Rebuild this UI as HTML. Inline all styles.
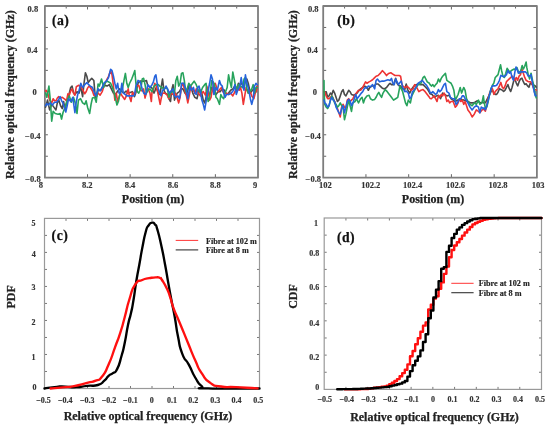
<!DOCTYPE html>
<html><head><meta charset="utf-8"><style>
html,body{margin:0;padding:0;background:#fff;width:550px;height:427px;overflow:hidden;font-family:"Liberation Serif", serif;}
</style></head><body>
<svg width="550" height="427" viewBox="0 0 550 427" style="position:absolute;left:0;top:0;filter:blur(0.35px)" font-family='"Liberation Serif", serif' font-weight="bold">
<rect width="550" height="427" fill="#fff"/>
<line x1="44.90" y1="156.24" x2="47.90" y2="156.24" stroke="#555" stroke-width="0.9"/>
<line x1="258.00" y1="156.24" x2="254.50" y2="156.24" stroke="#555" stroke-width="0.9"/>
<line x1="44.90" y1="134.78" x2="47.90" y2="134.78" stroke="#555" stroke-width="0.9"/>
<line x1="258.00" y1="134.78" x2="254.50" y2="134.78" stroke="#555" stroke-width="0.9"/>
<line x1="44.90" y1="113.31" x2="47.90" y2="113.31" stroke="#555" stroke-width="0.9"/>
<line x1="258.00" y1="113.31" x2="254.50" y2="113.31" stroke="#555" stroke-width="0.9"/>
<line x1="44.90" y1="91.85" x2="47.90" y2="91.85" stroke="#555" stroke-width="0.9"/>
<line x1="258.00" y1="91.85" x2="254.50" y2="91.85" stroke="#555" stroke-width="0.9"/>
<line x1="44.90" y1="70.39" x2="47.90" y2="70.39" stroke="#555" stroke-width="0.9"/>
<line x1="258.00" y1="70.39" x2="254.50" y2="70.39" stroke="#555" stroke-width="0.9"/>
<line x1="44.90" y1="48.92" x2="47.90" y2="48.92" stroke="#555" stroke-width="0.9"/>
<line x1="258.00" y1="48.92" x2="254.50" y2="48.92" stroke="#555" stroke-width="0.9"/>
<line x1="44.90" y1="27.46" x2="47.90" y2="27.46" stroke="#555" stroke-width="0.9"/>
<line x1="258.00" y1="27.46" x2="254.50" y2="27.46" stroke="#555" stroke-width="0.9"/>
<line x1="66.21" y1="6.00" x2="66.21" y2="8.50" stroke="#555" stroke-width="0.9"/>
<line x1="87.52" y1="6.00" x2="87.52" y2="9.50" stroke="#555" stroke-width="0.9"/>
<line x1="108.83" y1="6.00" x2="108.83" y2="8.50" stroke="#555" stroke-width="0.9"/>
<line x1="130.14" y1="6.00" x2="130.14" y2="9.50" stroke="#555" stroke-width="0.9"/>
<line x1="151.45" y1="6.00" x2="151.45" y2="8.50" stroke="#555" stroke-width="0.9"/>
<line x1="172.76" y1="6.00" x2="172.76" y2="9.50" stroke="#555" stroke-width="0.9"/>
<line x1="194.07" y1="6.00" x2="194.07" y2="8.50" stroke="#555" stroke-width="0.9"/>
<line x1="215.38" y1="6.00" x2="215.38" y2="9.50" stroke="#555" stroke-width="0.9"/>
<line x1="236.69" y1="6.00" x2="236.69" y2="8.50" stroke="#555" stroke-width="0.9"/>
<line x1="87.52" y1="177.70" x2="87.52" y2="174.20" stroke="#555" stroke-width="0.9"/>
<line x1="130.14" y1="177.70" x2="130.14" y2="174.20" stroke="#555" stroke-width="0.9"/>
<line x1="172.76" y1="177.70" x2="172.76" y2="174.20" stroke="#555" stroke-width="0.9"/>
<line x1="215.38" y1="177.70" x2="215.38" y2="174.20" stroke="#555" stroke-width="0.9"/>
<line x1="323.20" y1="156.24" x2="326.20" y2="156.24" stroke="#555" stroke-width="0.9"/>
<line x1="536.90" y1="156.24" x2="533.40" y2="156.24" stroke="#555" stroke-width="0.9"/>
<line x1="323.20" y1="134.78" x2="326.20" y2="134.78" stroke="#555" stroke-width="0.9"/>
<line x1="536.90" y1="134.78" x2="533.40" y2="134.78" stroke="#555" stroke-width="0.9"/>
<line x1="323.20" y1="113.31" x2="326.20" y2="113.31" stroke="#555" stroke-width="0.9"/>
<line x1="536.90" y1="113.31" x2="533.40" y2="113.31" stroke="#555" stroke-width="0.9"/>
<line x1="323.20" y1="91.85" x2="326.20" y2="91.85" stroke="#555" stroke-width="0.9"/>
<line x1="536.90" y1="91.85" x2="533.40" y2="91.85" stroke="#555" stroke-width="0.9"/>
<line x1="323.20" y1="70.39" x2="326.20" y2="70.39" stroke="#555" stroke-width="0.9"/>
<line x1="536.90" y1="70.39" x2="533.40" y2="70.39" stroke="#555" stroke-width="0.9"/>
<line x1="323.20" y1="48.92" x2="326.20" y2="48.92" stroke="#555" stroke-width="0.9"/>
<line x1="536.90" y1="48.92" x2="533.40" y2="48.92" stroke="#555" stroke-width="0.9"/>
<line x1="323.20" y1="27.46" x2="326.20" y2="27.46" stroke="#555" stroke-width="0.9"/>
<line x1="536.90" y1="27.46" x2="533.40" y2="27.46" stroke="#555" stroke-width="0.9"/>
<line x1="344.57" y1="6.00" x2="344.57" y2="8.50" stroke="#555" stroke-width="0.9"/>
<line x1="365.94" y1="6.00" x2="365.94" y2="9.50" stroke="#555" stroke-width="0.9"/>
<line x1="387.31" y1="6.00" x2="387.31" y2="8.50" stroke="#555" stroke-width="0.9"/>
<line x1="408.68" y1="6.00" x2="408.68" y2="9.50" stroke="#555" stroke-width="0.9"/>
<line x1="430.05" y1="6.00" x2="430.05" y2="8.50" stroke="#555" stroke-width="0.9"/>
<line x1="451.42" y1="6.00" x2="451.42" y2="9.50" stroke="#555" stroke-width="0.9"/>
<line x1="472.79" y1="6.00" x2="472.79" y2="8.50" stroke="#555" stroke-width="0.9"/>
<line x1="494.16" y1="6.00" x2="494.16" y2="9.50" stroke="#555" stroke-width="0.9"/>
<line x1="515.53" y1="6.00" x2="515.53" y2="8.50" stroke="#555" stroke-width="0.9"/>
<line x1="365.94" y1="177.70" x2="365.94" y2="174.20" stroke="#555" stroke-width="0.9"/>
<line x1="408.68" y1="177.70" x2="408.68" y2="174.20" stroke="#555" stroke-width="0.9"/>
<line x1="451.42" y1="177.70" x2="451.42" y2="174.20" stroke="#555" stroke-width="0.9"/>
<line x1="494.16" y1="177.70" x2="494.16" y2="174.20" stroke="#555" stroke-width="0.9"/>
<line x1="66.00" y1="388.50" x2="66.00" y2="386.00" stroke="#555" stroke-width="0.8"/>
<line x1="66.00" y1="218.40" x2="66.00" y2="220.90" stroke="#555" stroke-width="0.8"/>
<line x1="87.50" y1="388.50" x2="87.50" y2="386.00" stroke="#555" stroke-width="0.8"/>
<line x1="87.50" y1="218.40" x2="87.50" y2="220.90" stroke="#555" stroke-width="0.8"/>
<line x1="109.00" y1="388.50" x2="109.00" y2="386.00" stroke="#555" stroke-width="0.8"/>
<line x1="109.00" y1="218.40" x2="109.00" y2="220.90" stroke="#555" stroke-width="0.8"/>
<line x1="130.50" y1="388.50" x2="130.50" y2="386.00" stroke="#555" stroke-width="0.8"/>
<line x1="130.50" y1="218.40" x2="130.50" y2="220.90" stroke="#555" stroke-width="0.8"/>
<line x1="152.00" y1="388.50" x2="152.00" y2="386.00" stroke="#555" stroke-width="0.8"/>
<line x1="152.00" y1="218.40" x2="152.00" y2="220.90" stroke="#555" stroke-width="0.8"/>
<line x1="173.50" y1="388.50" x2="173.50" y2="386.00" stroke="#555" stroke-width="0.8"/>
<line x1="173.50" y1="218.40" x2="173.50" y2="220.90" stroke="#555" stroke-width="0.8"/>
<line x1="195.00" y1="388.50" x2="195.00" y2="386.00" stroke="#555" stroke-width="0.8"/>
<line x1="195.00" y1="218.40" x2="195.00" y2="220.90" stroke="#555" stroke-width="0.8"/>
<line x1="216.50" y1="388.50" x2="216.50" y2="386.00" stroke="#555" stroke-width="0.8"/>
<line x1="216.50" y1="218.40" x2="216.50" y2="220.90" stroke="#555" stroke-width="0.8"/>
<line x1="238.00" y1="388.50" x2="238.00" y2="386.00" stroke="#555" stroke-width="0.8"/>
<line x1="238.00" y1="218.40" x2="238.00" y2="220.90" stroke="#555" stroke-width="0.8"/>
<line x1="44.50" y1="235.41" x2="47.00" y2="235.41" stroke="#555" stroke-width="0.8"/>
<line x1="259.50" y1="235.41" x2="257.00" y2="235.41" stroke="#555" stroke-width="0.8"/>
<line x1="44.50" y1="252.42" x2="47.00" y2="252.42" stroke="#555" stroke-width="0.8"/>
<line x1="259.50" y1="252.42" x2="257.00" y2="252.42" stroke="#555" stroke-width="0.8"/>
<line x1="44.50" y1="269.43" x2="47.00" y2="269.43" stroke="#555" stroke-width="0.8"/>
<line x1="259.50" y1="269.43" x2="257.00" y2="269.43" stroke="#555" stroke-width="0.8"/>
<line x1="44.50" y1="286.44" x2="47.00" y2="286.44" stroke="#555" stroke-width="0.8"/>
<line x1="259.50" y1="286.44" x2="257.00" y2="286.44" stroke="#555" stroke-width="0.8"/>
<line x1="44.50" y1="303.45" x2="47.00" y2="303.45" stroke="#555" stroke-width="0.8"/>
<line x1="259.50" y1="303.45" x2="257.00" y2="303.45" stroke="#555" stroke-width="0.8"/>
<line x1="44.50" y1="320.46" x2="47.00" y2="320.46" stroke="#555" stroke-width="0.8"/>
<line x1="259.50" y1="320.46" x2="257.00" y2="320.46" stroke="#555" stroke-width="0.8"/>
<line x1="44.50" y1="337.47" x2="47.00" y2="337.47" stroke="#555" stroke-width="0.8"/>
<line x1="259.50" y1="337.47" x2="257.00" y2="337.47" stroke="#555" stroke-width="0.8"/>
<line x1="44.50" y1="354.48" x2="47.00" y2="354.48" stroke="#555" stroke-width="0.8"/>
<line x1="259.50" y1="354.48" x2="257.00" y2="354.48" stroke="#555" stroke-width="0.8"/>
<line x1="44.50" y1="371.49" x2="47.00" y2="371.49" stroke="#555" stroke-width="0.8"/>
<line x1="259.50" y1="371.49" x2="257.00" y2="371.49" stroke="#555" stroke-width="0.8"/>
<line x1="345.93" y1="389.40" x2="345.93" y2="386.90" stroke="#555" stroke-width="0.8"/>
<line x1="345.93" y1="218.00" x2="345.93" y2="220.50" stroke="#555" stroke-width="0.8"/>
<line x1="367.66" y1="389.40" x2="367.66" y2="386.90" stroke="#555" stroke-width="0.8"/>
<line x1="367.66" y1="218.00" x2="367.66" y2="220.50" stroke="#555" stroke-width="0.8"/>
<line x1="389.39" y1="389.40" x2="389.39" y2="386.90" stroke="#555" stroke-width="0.8"/>
<line x1="389.39" y1="218.00" x2="389.39" y2="220.50" stroke="#555" stroke-width="0.8"/>
<line x1="411.12" y1="389.40" x2="411.12" y2="386.90" stroke="#555" stroke-width="0.8"/>
<line x1="411.12" y1="218.00" x2="411.12" y2="220.50" stroke="#555" stroke-width="0.8"/>
<line x1="432.85" y1="389.40" x2="432.85" y2="386.90" stroke="#555" stroke-width="0.8"/>
<line x1="432.85" y1="218.00" x2="432.85" y2="220.50" stroke="#555" stroke-width="0.8"/>
<line x1="454.58" y1="389.40" x2="454.58" y2="386.90" stroke="#555" stroke-width="0.8"/>
<line x1="454.58" y1="218.00" x2="454.58" y2="220.50" stroke="#555" stroke-width="0.8"/>
<line x1="476.31" y1="389.40" x2="476.31" y2="386.90" stroke="#555" stroke-width="0.8"/>
<line x1="476.31" y1="218.00" x2="476.31" y2="220.50" stroke="#555" stroke-width="0.8"/>
<line x1="498.04" y1="389.40" x2="498.04" y2="386.90" stroke="#555" stroke-width="0.8"/>
<line x1="498.04" y1="218.00" x2="498.04" y2="220.50" stroke="#555" stroke-width="0.8"/>
<line x1="519.77" y1="389.40" x2="519.77" y2="386.90" stroke="#555" stroke-width="0.8"/>
<line x1="519.77" y1="218.00" x2="519.77" y2="220.50" stroke="#555" stroke-width="0.8"/>
<line x1="324.20" y1="235.14" x2="326.70" y2="235.14" stroke="#555" stroke-width="0.8"/>
<line x1="541.50" y1="235.14" x2="539.00" y2="235.14" stroke="#555" stroke-width="0.8"/>
<line x1="324.20" y1="252.28" x2="326.70" y2="252.28" stroke="#555" stroke-width="0.8"/>
<line x1="541.50" y1="252.28" x2="539.00" y2="252.28" stroke="#555" stroke-width="0.8"/>
<line x1="324.20" y1="269.42" x2="326.70" y2="269.42" stroke="#555" stroke-width="0.8"/>
<line x1="541.50" y1="269.42" x2="539.00" y2="269.42" stroke="#555" stroke-width="0.8"/>
<line x1="324.20" y1="286.56" x2="326.70" y2="286.56" stroke="#555" stroke-width="0.8"/>
<line x1="541.50" y1="286.56" x2="539.00" y2="286.56" stroke="#555" stroke-width="0.8"/>
<line x1="324.20" y1="303.70" x2="326.70" y2="303.70" stroke="#555" stroke-width="0.8"/>
<line x1="541.50" y1="303.70" x2="539.00" y2="303.70" stroke="#555" stroke-width="0.8"/>
<line x1="324.20" y1="320.84" x2="326.70" y2="320.84" stroke="#555" stroke-width="0.8"/>
<line x1="541.50" y1="320.84" x2="539.00" y2="320.84" stroke="#555" stroke-width="0.8"/>
<line x1="324.20" y1="337.98" x2="326.70" y2="337.98" stroke="#555" stroke-width="0.8"/>
<line x1="541.50" y1="337.98" x2="539.00" y2="337.98" stroke="#555" stroke-width="0.8"/>
<line x1="324.20" y1="355.12" x2="326.70" y2="355.12" stroke="#555" stroke-width="0.8"/>
<line x1="541.50" y1="355.12" x2="539.00" y2="355.12" stroke="#555" stroke-width="0.8"/>
<line x1="324.20" y1="372.26" x2="326.70" y2="372.26" stroke="#555" stroke-width="0.8"/>
<line x1="541.50" y1="372.26" x2="539.00" y2="372.26" stroke="#555" stroke-width="0.8"/>
<rect x="44.9" y="6.0" width="213.10" height="171.70" fill="none" stroke="#7d7d7d" stroke-width="1.8" stroke-linejoin="round"/>
<rect x="323.2" y="6.0" width="213.70" height="171.70" fill="none" stroke="#7d7d7d" stroke-width="1.8" stroke-linejoin="round"/>
<rect x="44.5" y="218.4" width="215.00" height="170.10" fill="none" stroke="#999" stroke-width="1.2"/>
<rect x="324.2" y="218.0" width="217.30" height="171.40" fill="none" stroke="#999" stroke-width="1.2"/>
<polyline points="45.60,107.13 47.51,100.11 49.62,109.94 51.72,104.33 53.83,107.13 55.94,109.94 57.34,102.92 58.75,100.11 60.57,105.73 62.26,108.54 63.66,101.52 65.07,109.94 66.47,103.62 67.88,99.41 69.28,93.09 70.69,87.47 72.09,86.07 73.49,92.39 74.90,94.49 77.01,91.69 79.11,93.09 80.52,86.07 82.62,96.60 84.03,83.26 85.43,72.72 86.84,76.24 88.24,82.56 90.35,79.75 91.75,78.34 93.86,80.45 95.26,97.30 96.67,96.60 98.07,90.28 100.81,90.28 102.92,86.07 105.02,85.37 107.13,86.07 109.24,84.66 111.34,88.88 113.45,93.09 115.56,94.49 117.66,90.98 119.77,88.88 121.88,91.69 123.98,93.09 126.09,90.98 128.20,93.09 130.30,92.39 132.41,91.69 134.52,96.60 135.92,92.39 138.03,83.26 140.13,81.15 142.24,81.15 144.35,81.15 146.46,80.45 147.86,86.07 149.97,86.77 152.07,88.17 154.11,93.09 156.21,87.47 158.32,93.09 159.72,94.49 161.13,87.47 162.53,79.04 163.94,90.28 165.34,93.09 167.45,94.49 168.85,98.71 170.54,101.52 171.66,90.28 173.07,84.66 174.47,100.11 175.88,95.90 177.28,93.09 179.39,91.69 180.79,88.88 182.90,88.88 185.01,93.09 186.41,94.49 187.81,90.28 189.22,84.66 190.62,86.07 192.73,93.09 194.84,97.30 196.94,98.71 199.05,90.28 201.16,90.28 203.26,100.11 204.67,102.92 206.07,97.30 206.81,90.28 208.21,93.09 209.62,94.49 211.72,87.47 213.83,93.09 215.94,94.49 218.04,91.69 220.15,91.69 222.26,88.88 224.37,90.28 226.47,94.49 228.58,93.09 230.69,90.28 232.79,88.88 234.90,86.07 236.30,91.69 238.41,83.26 239.81,84.66 241.22,83.26 243.33,86.07 245.43,81.85 246.84,79.04 248.24,83.26 250.35,93.09 252.46,90.28 254.56,88.88 255.97,90.28 257.20,86.07" fill="none" stroke="#4a4a4a" stroke-width="1.6" stroke-linejoin="round" stroke-linecap="round"/>
<polyline points="45.60,90.98 46.11,90.28 47.51,92.39 49.62,100.11 51.72,102.92 53.13,98.71 54.53,100.81 55.94,100.81 57.34,98.01 58.75,96.60 60.15,98.01 62.26,97.30 65.07,99.41 66.47,100.81 67.88,93.79 69.28,95.20 70.69,90.98 72.09,88.88 73.49,93.09 74.90,95.20 76.30,86.77 78.41,85.37 80.52,86.07 82.62,89.58 84.73,93.79 86.13,91.69 87.54,88.17 88.94,86.07 90.35,87.47 92.46,90.98 93.86,95.20 95.26,95.20 96.67,94.49 98.07,93.09 100.11,95.20 102.21,91.69 104.32,84.66 106.43,80.45 108.53,76.24 110.64,70.62 112.04,74.83 113.45,86.07 114.85,100.11 116.26,93.09 117.66,101.52 119.07,97.30 120.47,93.09 122.58,96.60 124.69,99.41 126.09,96.60 128.20,88.88 129.60,97.30 131.01,101.52 132.41,92.39 133.81,94.49 135.22,93.09 136.62,86.07 138.73,85.37 140.13,89.58 142.24,90.98 143.65,88.88 145.05,98.01 146.46,92.39 147.86,88.17 149.97,93.09 151.37,101.52 152.07,90.98 153.40,90.28 154.81,83.26 156.21,86.07 157.62,91.69 159.02,98.71 160.15,104.33 161.13,98.71 162.53,93.09 164.64,93.09 166.75,94.49 168.85,98.71 170.96,93.09 173.07,94.49 174.47,91.69 176.58,95.90 178.69,102.92 180.09,97.30 181.49,86.07 182.90,83.26 184.30,88.88 186.41,95.90 187.81,102.92 189.22,95.90 190.62,87.47 192.73,88.88 194.84,93.09 196.24,88.88 198.35,93.09 200.46,95.90 201.86,93.09 203.26,91.69 205.37,95.20 206.07,91.69 206.81,86.07 208.21,91.69 209.62,100.11 211.02,97.30 212.43,88.88 213.83,84.66 215.24,83.26 216.64,87.47 218.04,91.69 220.15,88.88 221.56,87.47 222.96,91.69 224.37,93.09 226.47,93.09 228.58,94.49 230.69,93.09 232.79,95.90 234.20,93.09 236.30,88.88 237.71,86.07 239.11,90.28 240.52,87.47 241.92,93.09 243.33,104.33 244.73,95.90 246.13,87.47 248.24,93.09 249.65,90.28 251.75,95.90 253.86,98.71 255.26,93.09 256.67,90.28 257.20,86.07" fill="none" stroke="#ee3434" stroke-width="1.6" stroke-linejoin="round" stroke-linecap="round"/>
<polyline points="45.60,93.09 46.81,97.30 48.92,86.07 50.32,100.11 51.72,121.18 53.13,111.35 55.24,113.46 58.04,114.16 60.15,113.46 61.56,119.07 62.96,112.75 65.07,107.13 67.17,100.11 69.28,95.90 71.39,102.22 73.49,97.30 75.60,104.33 77.01,113.46 78.41,100.11 80.52,98.71 82.62,102.92 84.73,104.33 86.13,100.81 87.54,107.13 89.65,113.46 91.05,104.33 92.46,98.01 94.56,97.30 96.25,102.22 98.07,83.96 99.40,86.07 101.51,79.04 103.62,87.47 105.02,83.26 106.43,81.15 108.53,81.85 110.64,83.26 112.75,88.17 114.15,93.09 115.56,98.71 116.96,105.03 118.37,101.52 119.77,94.49 121.17,89.58 122.58,88.17 123.98,80.45 125.39,73.43 126.79,83.26 128.20,87.47 129.60,83.26 131.71,79.04 133.81,73.43 134.80,70.62 135.92,83.26 137.33,91.69 138.73,93.09 140.84,88.88 142.24,79.04 143.65,78.34 145.05,84.66 146.46,93.09 147.86,90.28 149.97,88.88 152.07,91.69 154.11,86.07 156.21,84.66 158.32,84.66 159.72,86.07 161.83,87.47 163.94,88.88 166.04,87.47 167.45,88.88 168.85,97.30 170.26,93.09 172.37,91.69 174.47,93.09 175.88,80.45 177.28,76.24 178.69,86.07 180.09,83.26 181.49,73.43 182.90,72.72 184.30,80.45 185.71,91.69 187.11,88.88 188.80,83.26 190.62,86.07 192.03,83.96 194.13,81.15 196.24,84.66 198.35,90.28 200.46,93.09 202.56,87.47 204.67,84.66 206.07,83.26 206.81,93.09 208.21,101.52 209.62,97.30 211.72,80.45 213.13,81.85 214.53,84.66 215.94,97.30 217.34,98.71 219.45,104.33 220.85,94.49 222.26,97.30 223.66,98.71 225.07,93.09 227.17,87.47 228.58,74.83 229.98,81.85 231.39,87.47 232.79,72.02 234.20,79.04 235.60,86.07 237.01,88.88 238.41,84.66 240.52,86.07 242.62,87.47 244.03,79.04 245.43,77.64 246.84,88.88 248.24,93.09 249.65,91.69 251.75,88.88 253.16,84.66 254.56,93.09 255.97,87.47 257.20,87.47" fill="none" stroke="#27a35c" stroke-width="1.6" stroke-linejoin="round" stroke-linecap="round"/>
<polyline points="45.60,105.73 46.81,103.62 48.21,105.03 50.32,102.92 52.43,105.03 54.53,102.22 56.64,102.22 58.75,99.41 60.15,96.60 61.56,100.81 62.96,102.92 64.37,107.13 65.77,112.05 67.17,105.73 68.58,98.71 70.69,101.52 72.79,97.30 74.90,112.75 76.30,101.52 77.71,94.49 79.11,90.28 80.80,83.26 82.62,87.47 84.73,84.66 86.84,82.56 88.66,84.66 90.35,86.07 92.46,87.47 94.56,93.09 95.97,95.90 98.07,88.88 100.11,90.98 102.21,87.47 104.32,82.56 106.43,81.15 108.53,77.64 110.64,69.21 112.04,70.62 113.45,76.24 114.85,83.26 116.26,88.88 117.66,83.26 119.07,93.09 120.47,93.09 121.88,83.26 123.28,93.09 125.39,94.49 126.79,95.90 128.90,95.90 131.01,95.90 133.11,95.90 134.52,95.20 135.92,86.07 138.03,80.45 140.13,81.85 142.24,88.88 143.65,93.09 145.75,94.49 147.86,84.66 149.97,87.47 152.07,84.66 153.40,81.85 154.81,76.24 155.93,74.83 156.92,81.85 158.32,88.88 159.72,93.09 161.13,95.90 162.53,90.28 164.64,88.88 166.04,86.07 167.45,88.88 169.56,93.09 171.66,90.28 173.07,88.88 174.47,95.90 175.88,97.30 177.98,95.90 179.39,98.71 180.79,91.69 181.49,83.26 183.60,83.26 185.01,87.47 186.41,90.28 187.81,98.71 189.92,86.07 191.33,90.28 193.43,87.47 194.84,93.09 196.24,94.49 197.65,87.47 199.05,86.07 200.46,91.69 201.86,100.11 203.26,104.33 204.67,109.94 206.07,101.52 206.81,95.90 208.21,90.28 209.62,83.26 211.02,74.83 212.43,79.04 213.83,94.49 215.24,87.47 217.34,90.28 219.45,80.45 220.85,84.66 222.26,86.07 223.66,93.09 225.07,97.30 226.47,94.49 228.58,94.49 231.39,93.09 233.49,90.28 234.90,84.66 236.30,94.49 237.71,90.28 239.81,86.07 241.22,77.64 242.62,86.07 244.03,90.28 245.43,74.83 246.84,83.26 248.24,87.47 250.35,98.71 251.75,104.33 253.16,98.71 254.56,86.07 255.97,83.26 257.20,84.66" fill="none" stroke="#2563dc" stroke-width="1.6" stroke-linejoin="round" stroke-linecap="round"/>
<polyline points="324.00,91.69 324.81,91.69 326.21,91.69 327.62,97.30 329.02,95.90 330.43,93.09 331.83,94.49 333.24,90.28 334.64,93.09 336.04,97.30 337.45,101.52 338.85,100.11 340.26,95.90 341.66,91.69 343.07,89.58 344.47,94.49 345.88,95.90 347.28,93.09 348.69,90.28 350.09,91.69 351.49,94.49 353.60,95.20 355.01,94.49 357.11,93.09 359.22,90.28 360.62,88.88 362.73,87.47 364.84,86.07 366.94,87.47 368.35,90.28 369.75,87.47 371.86,86.07 373.97,86.07 376.07,83.96 378.11,83.96 380.21,86.07 382.32,88.17 384.43,88.88 386.53,87.47 388.64,84.66 390.04,83.26 391.45,84.66 393.56,84.66 395.66,78.34 397.07,83.26 398.47,85.37 400.58,86.07 402.69,88.88 404.79,89.58 406.20,83.96 407.60,89.58 409.71,93.09 411.81,88.88 413.92,86.07 416.03,84.66 418.13,83.96 420.24,84.66 423.05,84.66 425.16,86.77 427.26,88.88 429.37,92.39 430.07,93.79 432.11,94.49 434.21,97.30 436.32,95.90 438.43,95.20 440.53,98.71 442.64,93.09 444.75,94.49 446.85,95.90 448.96,95.20 451.07,98.71 453.17,100.11 455.28,101.52 457.39,100.11 459.49,100.11 461.60,99.41 463.71,100.11 465.81,100.81 467.92,101.52 470.73,102.92 472.84,102.92 474.94,102.22 477.05,100.81 478.46,101.52 480.56,102.92 482.67,102.22 484.07,102.92 485.40,102.75 486.81,99.94 488.21,97.13 489.62,94.33 491.02,91.52 492.43,90.11 493.83,92.92 495.24,94.33 496.64,94.33 498.04,92.22 499.45,88.71 500.85,89.41 502.26,90.11 503.66,91.52 505.07,90.11 506.47,87.30 507.88,84.49 509.28,88.71 510.69,91.52 512.09,87.30 513.49,81.69 514.90,78.88 516.30,83.09 517.71,85.90 519.11,81.69 520.52,78.88 521.92,78.17 523.33,81.69 524.73,84.49 526.13,83.79 527.54,85.90 528.94,87.30 530.35,83.09 532.46,84.49 533.86,85.20 535.26,85.90 536.20,87.30" fill="none" stroke="#4a4a4a" stroke-width="1.6" stroke-linejoin="round" stroke-linecap="round"/>
<polyline points="324.00,91.69 324.81,91.69 326.21,95.90 327.62,98.71 329.02,98.71 330.43,97.30 331.83,95.90 333.24,98.71 334.64,101.52 336.04,105.73 337.45,108.54 338.85,112.75 340.26,116.97 341.66,107.13 343.07,104.33 344.47,107.13 345.88,108.54 347.28,100.11 348.69,98.71 350.09,101.52 351.49,100.11 352.90,98.71 354.30,95.90 356.41,93.09 358.52,90.28 360.62,90.28 362.73,87.47 364.13,84.66 365.54,81.85 366.94,83.26 369.05,81.85 370.46,81.15 372.56,79.75 374.67,77.64 376.07,76.24 378.11,75.53 380.21,73.43 382.32,70.62 384.43,72.72 386.53,75.53 388.64,73.43 390.75,72.72 392.85,74.13 394.96,75.53 397.07,75.53 399.17,75.53 400.58,76.24 401.98,84.66 403.39,86.77 405.49,87.47 406.90,86.07 409.01,88.17 411.11,90.28 413.22,88.88 414.62,84.66 416.03,86.07 417.43,88.88 418.84,91.69 420.94,90.28 423.05,89.58 425.16,91.69 427.26,94.49 429.37,97.30 430.07,98.43 431.40,98.71 432.81,97.30 434.21,95.90 435.62,98.71 437.02,101.52 438.43,95.90 439.83,97.30 441.24,94.49 442.64,95.90 444.04,93.09 445.45,95.90 446.85,101.52 448.26,100.11 449.66,102.92 451.07,101.52 453.17,101.52 455.28,107.13 456.69,105.73 458.09,102.92 459.49,98.71 460.90,101.52 462.30,100.11 463.71,104.33 465.11,101.52 466.52,105.73 467.92,109.94 470.03,112.75 472.13,116.97 474.24,114.16 476.35,109.94 478.46,111.35 479.86,112.75 481.97,109.94 484.07,109.24 485.40,111.18 486.81,105.56 488.21,98.54 489.62,92.92 491.02,90.11 492.43,88.71 493.83,94.33 495.24,91.52 496.64,90.11 498.04,88.71 499.45,85.90 500.85,82.39 502.26,87.30 503.66,88.71 505.07,85.90 506.47,81.69 507.88,80.28 509.28,78.88 510.69,77.47 512.09,76.07 513.49,77.47 514.90,80.28 516.30,77.47 517.71,80.28 519.11,76.07 520.52,74.66 521.92,69.04 523.33,73.26 524.73,77.47 526.13,80.28 528.24,81.69 530.35,81.69 531.75,83.09 533.16,87.30 534.56,89.41 536.20,90.11" fill="none" stroke="#ee3434" stroke-width="1.6" stroke-linejoin="round" stroke-linecap="round"/>
<polyline points="324.00,80.45 324.11,93.09 324.81,104.33 326.21,107.13 327.62,108.54 329.02,105.73 330.43,100.11 331.83,95.90 333.24,98.71 334.64,102.92 336.04,104.33 337.45,107.13 338.85,105.73 340.26,102.92 341.66,105.73 343.07,107.13 344.47,119.78 345.88,114.16 347.28,107.13 348.69,100.11 350.09,105.73 351.49,111.35 352.90,102.92 355.01,101.52 356.41,98.71 358.52,102.92 360.62,98.71 362.03,97.30 363.43,102.92 364.84,98.71 366.94,95.90 369.05,95.20 370.46,98.71 372.56,100.11 374.67,99.41 376.07,97.30 377.40,94.49 378.81,92.39 380.21,95.20 381.62,97.30 383.02,93.09 385.13,89.58 387.24,91.69 389.34,94.49 391.45,97.30 393.56,100.11 395.66,98.71 397.77,97.30 399.88,86.07 401.28,88.88 402.69,91.69 404.09,97.30 405.49,102.92 406.90,105.73 408.30,100.11 410.41,102.92 411.81,95.90 413.92,91.69 416.03,87.47 418.13,84.66 420.94,83.26 423.05,77.64 424.46,76.24 425.86,79.04 427.26,81.85 429.37,83.26 430.07,84.66 431.40,86.07 432.81,84.66 434.21,86.77 435.62,84.66 437.02,83.26 438.43,79.04 439.83,81.85 441.24,78.34 442.64,76.24 444.04,74.83 445.45,73.43 446.85,80.45 448.96,81.85 451.07,83.26 452.47,86.07 453.88,90.28 455.28,100.11 456.69,97.30 458.09,94.49 460.20,87.47 461.60,93.09 463.71,87.47 465.11,90.28 466.52,98.71 467.92,101.52 470.03,104.33 472.13,105.73 474.24,102.92 476.35,104.33 478.46,100.11 479.86,104.33 481.97,102.92 483.37,95.90 484.07,101.52 485.40,108.37 486.81,106.97 488.21,101.35 489.62,94.33 491.02,88.71 492.43,85.20 493.83,83.09 495.24,77.47 496.64,76.07 498.04,74.66 499.45,69.04 500.57,64.83 501.56,70.45 502.96,76.07 504.37,77.47 505.77,73.26 507.17,68.34 508.58,70.45 509.98,71.85 511.39,70.45 512.79,69.75 514.20,69.04 515.60,69.75 517.01,67.64 518.41,71.85 519.81,73.26 521.22,69.04 522.20,65.53 523.33,69.04 524.73,66.24 526.13,62.02 526.84,67.64 528.24,74.66 529.65,78.88 531.05,73.26 532.46,80.28 533.86,85.90 535.26,94.33 536.20,97.84" fill="none" stroke="#27a35c" stroke-width="1.6" stroke-linejoin="round" stroke-linecap="round"/>
<polyline points="324.00,100.11 324.81,102.92 326.21,104.33 327.62,107.13 329.02,105.73 330.43,100.11 331.83,97.30 333.24,100.11 334.64,101.52 336.04,107.13 337.45,109.94 338.85,112.75 340.26,114.16 341.66,108.54 343.07,105.73 344.47,112.75 345.88,107.13 347.28,101.52 348.69,99.41 350.09,100.81 351.49,105.73 352.90,102.92 354.30,98.71 355.71,94.49 357.11,98.71 359.22,95.90 361.33,93.09 362.73,91.69 364.13,88.88 365.54,87.47 366.94,88.17 368.35,86.07 370.46,86.77 372.56,84.66 374.67,88.88 376.07,80.45 377.40,79.04 379.51,81.85 381.62,81.15 383.72,81.15 385.83,80.45 387.94,79.75 390.04,80.45 391.45,78.34 392.85,83.26 394.26,84.66 395.66,79.04 397.07,81.85 398.47,84.66 399.88,82.56 401.28,81.15 402.69,87.47 404.79,91.69 406.20,90.98 408.30,93.09 409.71,98.71 411.11,97.30 412.52,91.69 413.92,90.28 416.03,87.47 418.13,83.26 420.24,81.85 422.35,80.45 424.46,83.26 426.56,85.37 428.67,88.88 430.07,92.39 431.40,93.09 432.81,91.69 434.21,93.09 435.62,94.49 437.02,93.09 438.43,89.58 439.83,91.69 441.24,90.28 442.64,87.47 444.04,84.66 445.45,83.26 446.85,91.69 448.96,93.09 450.37,97.30 452.47,98.71 454.58,98.71 455.98,104.33 457.39,102.92 459.49,98.71 460.90,98.71 462.30,95.90 463.71,95.90 465.11,98.71 466.52,100.11 467.92,102.92 470.03,107.13 472.13,109.94 474.24,107.13 476.35,105.73 478.46,107.13 479.86,112.75 481.26,107.13 483.37,108.54 484.07,107.84 485.40,109.78 486.81,105.56 488.21,99.94 489.62,94.33 491.02,88.71 492.43,85.90 493.83,85.90 495.24,85.90 496.64,85.20 498.04,83.09 499.45,80.28 500.85,75.37 502.26,76.07 503.66,76.77 505.07,76.07 506.47,74.66 507.88,70.45 509.28,73.26 510.69,71.85 512.09,77.47 513.49,80.28 514.90,71.85 516.02,66.94 517.01,69.04 518.41,73.26 519.81,71.85 521.22,71.85 523.33,71.85 525.43,71.85 526.84,73.26 528.24,76.07 529.65,76.07 531.05,74.66 532.46,83.09 533.86,90.11 535.26,95.73 536.20,95.73" fill="none" stroke="#2563dc" stroke-width="1.6" stroke-linejoin="round" stroke-linecap="round"/>
<path d="M44.50,388.50 C48.63,387.93 49.90,387.43 56.90,386.80 C63.90,386.17 59.03,386.47 65.50,386.60 C71.97,386.73 69.10,387.47 76.30,387.20 C83.50,386.93 79.93,386.53 87.10,385.80 C94.27,385.07 92.07,386.70 97.80,385.00 C103.53,383.30 100.70,383.77 104.30,380.70 C107.90,377.63 105.73,378.30 108.60,375.80 C111.47,373.30 110.03,375.50 112.90,373.20 C115.77,370.90 114.33,374.63 117.20,368.90 C120.07,363.17 119.00,364.63 121.50,356.00 C124.00,347.37 122.53,353.33 124.70,343.00 C126.87,332.67 125.90,335.00 128.00,325.00 C130.10,315.00 129.17,321.33 131.00,313.00 C132.83,304.67 131.73,310.60 133.50,300.00 C135.27,289.40 134.37,292.93 136.30,281.20 C138.23,269.47 137.33,275.73 139.30,264.80 C141.27,253.87 140.07,259.33 142.20,248.40 C144.33,237.47 143.60,239.63 145.70,232.00 C147.80,224.37 146.40,228.60 148.50,225.50 C150.60,222.40 149.83,223.03 152.00,222.70 C154.17,222.37 153.20,222.17 155.00,224.50 C156.80,226.83 155.27,222.53 157.40,229.70 C159.53,236.87 158.83,234.30 161.40,246.00 C163.97,257.70 162.77,252.27 165.10,264.80 C167.43,277.33 166.30,271.87 168.40,283.60 C170.50,295.33 169.27,288.80 171.40,300.00 C173.53,311.20 172.60,305.00 174.80,317.20 C177.00,329.40 175.50,324.40 178.00,336.60 C180.50,348.80 178.70,344.47 182.30,353.80 C185.90,363.13 184.50,356.70 188.80,364.60 C193.10,372.50 190.90,370.33 195.20,377.50 C199.50,384.67 197.40,382.50 201.70,386.10 C206.00,389.70 188.83,387.50 208.10,388.30 C227.37,389.10 242.37,388.43 259.50,388.50" fill="none" stroke="#000" stroke-width="2.35" stroke-linejoin="round" stroke-linecap="round"/>
<path d="M50.50,388.50 C55.50,388.07 57.63,388.00 65.50,387.20 C73.37,386.40 66.90,387.53 74.10,386.10 C81.30,384.67 79.90,384.70 87.10,382.90 C94.30,381.10 90.70,382.87 95.70,380.70 C100.70,378.53 97.80,381.77 102.10,376.40 C106.40,371.03 104.30,374.27 108.60,364.60 C112.90,354.93 111.07,358.17 115.00,347.40 C118.93,336.63 117.17,342.37 120.40,332.30 C123.63,322.23 121.67,328.30 124.70,317.20 C127.73,306.10 126.03,309.83 129.50,299.00 C132.97,288.17 130.87,291.03 135.10,284.70 C139.33,278.37 137.50,282.17 142.20,280.00 C146.90,277.83 144.53,279.10 149.20,278.20 C153.87,277.30 152.60,277.37 156.20,277.30 C159.80,277.23 158.07,277.10 160.00,278.00 C161.93,278.90 159.77,276.57 162.00,280.00 C164.23,283.43 163.93,282.43 166.70,288.30 C169.47,294.17 167.97,290.83 170.30,297.60 C172.63,304.37 170.43,299.90 173.70,308.60 C176.97,317.30 175.33,312.23 180.10,323.70 C184.87,335.17 182.97,330.80 188.00,343.00 C193.03,355.20 190.63,350.23 195.20,360.30 C199.77,370.37 196.67,365.67 201.70,373.20 C206.73,380.73 203.87,378.47 210.30,382.90 C216.73,387.33 212.40,385.07 221.00,386.50 C229.60,387.93 223.90,386.60 236.10,387.20 C248.30,387.80 250.43,387.93 257.60,388.30" fill="none" stroke="#ff1010" stroke-width="2.35" stroke-linejoin="round" stroke-linecap="round"/>
<polyline points="345.00,389.40 347.60,389.40 347.60,389.36 350.20,389.36 350.20,389.32 352.80,389.32 352.80,389.28 355.40,389.28 355.40,389.24 358.00,389.24 358.00,389.20 360.60,389.20 360.60,389.16 363.20,389.16 363.20,389.13 365.80,389.13 365.80,388.97 368.40,388.97 368.40,388.58 371.00,388.58 371.00,388.20 373.60,388.20 373.60,387.81 376.20,387.81 376.20,387.47 378.80,387.47 378.80,387.12 381.40,387.12 381.40,386.77 384.00,386.77 384.00,386.43 386.60,386.43 386.60,385.69 389.20,385.69 389.20,384.21 391.80,384.21 391.80,382.73 394.40,382.73 394.40,380.94 397.00,380.94 397.00,379.10 399.60,379.10 399.60,376.28 402.20,376.28 402.20,373.10 404.80,373.10 404.80,369.78 407.40,369.78 407.40,364.40 410.00,364.40 410.00,356.20 412.60,356.20 412.60,351.00 415.20,351.00 415.20,344.22 417.80,344.22 417.80,338.30 420.40,338.30 420.40,331.79 423.00,331.79 423.00,325.67 425.60,325.67 425.60,322.42 428.20,322.42 428.20,309.56 430.80,309.56 430.80,304.71 433.40,304.71 433.40,298.60 436.00,298.60 436.00,296.31 438.60,296.31 438.60,288.70 441.20,288.70 441.20,282.40 443.80,282.40 443.80,273.84 446.40,273.84 446.40,266.50 449.00,266.50 449.00,257.26 451.60,257.26 451.60,250.04 454.20,250.04 454.20,245.50 456.80,245.50 456.80,242.20 459.40,242.20 459.40,238.97 462.00,238.97 462.00,235.66 464.60,235.66 464.60,232.49 467.20,232.49 467.20,229.65 469.80,229.65 469.80,227.00 472.40,227.00 472.40,224.40 475.00,224.40 475.00,222.97 477.60,222.97 477.60,221.69 480.20,221.69 480.20,220.70 482.80,220.70 482.80,219.78 485.40,219.78 485.40,219.26 488.00,219.26 488.00,218.92 490.60,218.92 490.60,218.58 493.20,218.58 493.20,218.28 495.80,218.28 495.80,218.17 498.40,218.17 498.40,218.07 501.00,218.07 501.00,218.00 503.60,218.00 503.60,218.00 506.20,218.00 506.20,218.00 508.80,218.00 508.80,218.00 511.40,218.00 511.40,218.00 514.00,218.00 514.00,218.00 516.60,218.00 516.60,218.00 519.20,218.00 519.20,218.00 521.80,218.00 521.80,218.00 524.40,218.00 524.40,218.00 527.00,218.00 527.00,218.00 529.60,218.00 529.60,218.00 532.20,218.00 532.20,218.00 534.80,218.00 534.80,218.00 537.40,218.00 537.40,218.00 540.00,218.00 540.00,218.00 541.50,218.00 541.50,218.00" fill="none" stroke="#ff1010" stroke-width="2.4" stroke-linejoin="round" stroke-linecap="round"/>
<polyline points="337.20,389.20 339.80,389.20 339.80,389.18 342.40,389.18 342.40,389.16 345.00,389.16 345.00,389.15 347.60,389.15 347.60,389.13 350.20,389.13 350.20,389.11 352.80,389.11 352.80,389.06 355.40,389.06 355.40,388.96 358.00,388.96 358.00,388.85 360.60,388.85 360.60,388.75 363.20,388.75 363.20,388.64 365.80,388.64 365.80,388.54 368.40,388.54 368.40,388.44 371.00,388.44 371.00,388.25 373.60,388.25 373.60,388.03 376.20,388.03 376.20,387.81 378.80,387.81 378.80,387.59 381.40,387.59 381.40,387.36 384.00,387.36 384.00,387.14 386.60,387.14 386.60,386.92 389.20,386.92 389.20,386.27 391.80,386.27 391.80,385.59 394.40,385.59 394.40,384.93 397.00,384.93 397.00,384.30 399.60,384.30 399.60,383.67 402.20,383.67 402.20,382.41 404.80,382.41 404.80,381.06 407.40,381.06 407.40,376.60 410.00,376.60 410.00,371.08 412.60,371.08 412.60,365.29 415.20,365.29 415.20,360.69 417.80,360.69 417.80,356.33 420.40,356.33 420.40,350.39 423.00,350.39 423.00,342.00 425.60,342.00 425.60,334.28 428.20,334.28 428.20,318.18 430.80,318.18 430.80,310.45 433.40,310.45 433.40,297.57 436.00,297.57 436.00,289.63 438.60,289.63 438.60,281.17 441.20,281.17 441.20,268.80 443.80,268.80 443.80,267.16 446.40,267.16 446.40,251.92 449.00,251.92 449.00,245.71 451.60,245.71 451.60,238.07 454.20,238.07 454.20,233.84 456.80,233.84 456.80,229.59 459.40,229.59 459.40,227.40 462.00,227.40 462.00,224.87 464.60,224.87 464.60,223.17 467.20,223.17 467.20,221.47 469.80,221.47 469.80,220.29 472.40,220.29 472.40,219.13 475.00,219.13 475.00,218.68 477.60,218.68 477.60,218.33 480.20,218.33 480.20,218.00 482.80,218.00 482.80,218.00 485.40,218.00 485.40,218.00 488.00,218.00 488.00,218.00 490.60,218.00 490.60,218.00 493.20,218.00 493.20,218.00 495.80,218.00 495.80,218.00 498.40,218.00 498.40,218.00 501.00,218.00 501.00,218.00 503.60,218.00 503.60,218.00 506.20,218.00 506.20,218.00 508.80,218.00 508.80,218.00 511.40,218.00 511.40,218.00 514.00,218.00 514.00,218.00 516.60,218.00 516.60,218.00 519.20,218.00 519.20,218.00 521.80,218.00 521.80,218.00 524.40,218.00 524.40,218.00 527.00,218.00 527.00,218.00 529.60,218.00 529.60,218.00 532.20,218.00 532.20,218.00 534.80,218.00 534.80,218.00 537.40,218.00 537.40,218.00 540.00,218.00 540.00,218.00 541.50,218.00 541.50,218.00" fill="none" stroke="#000" stroke-width="2.4" stroke-linejoin="round" stroke-linecap="round"/>
<text x="32.90" y="12.37" font-size="8.5" text-anchor="middle" fill="#333" stroke="#333" stroke-width="0.15">0.8</text>
<text x="32.20" y="53.27" font-size="8.5" text-anchor="middle" fill="#333" stroke="#333" stroke-width="0.15">0.4</text>
<text x="34.50" y="94.67" font-size="8.5" text-anchor="middle" fill="#333" stroke="#333" stroke-width="0.15">0</text>
<text x="32.80" y="138.77" font-size="8.5" text-anchor="middle" fill="#333" stroke="#333" stroke-width="0.15">−0.4</text>
<text x="33.00" y="182.07" font-size="8.5" text-anchor="middle" fill="#333" stroke="#333" stroke-width="0.15">−0.8</text>
<text x="313.20" y="12.37" font-size="8.5" text-anchor="middle" fill="#333" stroke="#333" stroke-width="0.15">0.8</text>
<text x="312.50" y="53.27" font-size="8.5" text-anchor="middle" fill="#333" stroke="#333" stroke-width="0.15">0.4</text>
<text x="314.80" y="94.67" font-size="8.5" text-anchor="middle" fill="#333" stroke="#333" stroke-width="0.15">0</text>
<text x="313.10" y="138.77" font-size="8.5" text-anchor="middle" fill="#333" stroke="#333" stroke-width="0.15">−0.4</text>
<text x="313.30" y="182.07" font-size="8.5" text-anchor="middle" fill="#333" stroke="#333" stroke-width="0.15">−0.8</text>
<text x="40.90" y="187.97" font-size="8.5" text-anchor="middle" fill="#333" stroke="#333" stroke-width="0.15">8</text>
<text x="87.20" y="187.97" font-size="8.5" text-anchor="middle" fill="#333" stroke="#333" stroke-width="0.15">8.2</text>
<text x="130.00" y="187.97" font-size="8.5" text-anchor="middle" fill="#333" stroke="#333" stroke-width="0.15">8.4</text>
<text x="173.00" y="187.97" font-size="8.5" text-anchor="middle" fill="#333" stroke="#333" stroke-width="0.15">8.6</text>
<text x="215.40" y="187.97" font-size="8.5" text-anchor="middle" fill="#333" stroke="#333" stroke-width="0.15">8.8</text>
<text x="255.20" y="187.97" font-size="8.5" text-anchor="middle" fill="#333" stroke="#333" stroke-width="0.15">9</text>
<text x="325.30" y="188.37" font-size="8.5" text-anchor="middle" fill="#333" stroke="#333" stroke-width="0.15">102</text>
<text x="370.70" y="188.37" font-size="8.5" text-anchor="middle" fill="#333" stroke="#333" stroke-width="0.15">102.2</text>
<text x="412.60" y="188.37" font-size="8.5" text-anchor="middle" fill="#333" stroke="#333" stroke-width="0.15">102.4</text>
<text x="455.50" y="188.37" font-size="8.5" text-anchor="middle" fill="#333" stroke="#333" stroke-width="0.15">102.6</text>
<text x="498.00" y="188.37" font-size="8.5" text-anchor="middle" fill="#333" stroke="#333" stroke-width="0.15">102.8</text>
<text x="538.20" y="188.37" font-size="8.5" text-anchor="middle" fill="#333" stroke="#333" stroke-width="0.15">103</text>
<text x="43.50" y="402.80" font-size="8" text-anchor="middle" fill="#333" stroke="#333" stroke-width="0.15">−0.5</text>
<text x="324.70" y="401.70" font-size="8" text-anchor="middle" fill="#333" stroke="#333" stroke-width="0.15">−0.5</text>
<text x="65.20" y="402.80" font-size="8" text-anchor="middle" fill="#333" stroke="#333" stroke-width="0.15">−0.4</text>
<text x="346.70" y="401.70" font-size="8" text-anchor="middle" fill="#333" stroke="#333" stroke-width="0.15">−0.4</text>
<text x="87.20" y="402.80" font-size="8" text-anchor="middle" fill="#333" stroke="#333" stroke-width="0.15">−0.3</text>
<text x="368.50" y="401.70" font-size="8" text-anchor="middle" fill="#333" stroke="#333" stroke-width="0.15">−0.3</text>
<text x="109.00" y="402.80" font-size="8" text-anchor="middle" fill="#333" stroke="#333" stroke-width="0.15">−0.2</text>
<text x="390.30" y="401.70" font-size="8" text-anchor="middle" fill="#333" stroke="#333" stroke-width="0.15">−0.2</text>
<text x="130.40" y="402.80" font-size="8" text-anchor="middle" fill="#333" stroke="#333" stroke-width="0.15">−0.1</text>
<text x="411.50" y="401.70" font-size="8" text-anchor="middle" fill="#333" stroke="#333" stroke-width="0.15">−0.1</text>
<text x="151.80" y="402.80" font-size="8" text-anchor="middle" fill="#333" stroke="#333" stroke-width="0.15">0</text>
<text x="433.00" y="401.70" font-size="8" text-anchor="middle" fill="#333" stroke="#333" stroke-width="0.15">0</text>
<text x="171.90" y="402.80" font-size="8" text-anchor="middle" fill="#333" stroke="#333" stroke-width="0.15">0.1</text>
<text x="452.60" y="401.70" font-size="8" text-anchor="middle" fill="#333" stroke="#333" stroke-width="0.15">0.1</text>
<text x="193.20" y="402.80" font-size="8" text-anchor="middle" fill="#333" stroke="#333" stroke-width="0.15">0.2</text>
<text x="474.40" y="401.70" font-size="8" text-anchor="middle" fill="#333" stroke="#333" stroke-width="0.15">0.2</text>
<text x="215.20" y="402.80" font-size="8" text-anchor="middle" fill="#333" stroke="#333" stroke-width="0.15">0.3</text>
<text x="496.40" y="401.70" font-size="8" text-anchor="middle" fill="#333" stroke="#333" stroke-width="0.15">0.3</text>
<text x="236.50" y="402.80" font-size="8" text-anchor="middle" fill="#333" stroke="#333" stroke-width="0.15">0.4</text>
<text x="518.10" y="401.70" font-size="8" text-anchor="middle" fill="#333" stroke="#333" stroke-width="0.15">0.4</text>
<text x="258.20" y="402.80" font-size="8" text-anchor="middle" fill="#333" stroke="#333" stroke-width="0.15">0.5</text>
<text x="540.10" y="401.70" font-size="8" text-anchor="middle" fill="#333" stroke="#333" stroke-width="0.15">0.5</text>
<text x="33.40" y="225.70" font-size="8" text-anchor="middle" fill="#333" stroke="#333" stroke-width="0.15">5</text>
<text x="33.70" y="257.20" font-size="8" text-anchor="middle" fill="#333" stroke="#333" stroke-width="0.15">4</text>
<text x="33.40" y="289.70" font-size="8" text-anchor="middle" fill="#333" stroke="#333" stroke-width="0.15">3</text>
<text x="33.40" y="325.20" font-size="8" text-anchor="middle" fill="#333" stroke="#333" stroke-width="0.15">2</text>
<text x="33.40" y="359.60" font-size="8" text-anchor="middle" fill="#333" stroke="#333" stroke-width="0.15">1</text>
<text x="34.50" y="389.70" font-size="8" text-anchor="middle" fill="#333" stroke="#333" stroke-width="0.15">0</text>
<text x="316.00" y="225.70" font-size="8" text-anchor="middle" fill="#333" stroke="#333" stroke-width="0.15">1</text>
<text x="314.20" y="256.30" font-size="8" text-anchor="middle" fill="#333" stroke="#333" stroke-width="0.15">0.8</text>
<text x="314.20" y="289.50" font-size="8" text-anchor="middle" fill="#333" stroke="#333" stroke-width="0.15">0.6</text>
<text x="314.20" y="325.60" font-size="8" text-anchor="middle" fill="#333" stroke="#333" stroke-width="0.15">0.4</text>
<text x="314.20" y="359.70" font-size="8" text-anchor="middle" fill="#333" stroke="#333" stroke-width="0.15">0.2</text>
<text x="317.20" y="390.10" font-size="8" text-anchor="middle" fill="#333" stroke="#333" stroke-width="0.15">0</text>
<text x="153.00" y="202.50" font-size="12" text-anchor="middle" fill="#222" stroke="#222" stroke-width="0.25">Position (m)</text>
<text x="433.00" y="202.50" font-size="12" text-anchor="middle" fill="#222" stroke="#222" stroke-width="0.25">Position (m)</text>
<text x="14.50" y="94.70" font-size="12" text-anchor="middle" fill="#222" stroke="#222" stroke-width="0.25" transform="rotate(-90 14.5 94.7)">Relative optical frequency (GHz)</text>
<text x="297.00" y="94.50" font-size="12" text-anchor="middle" fill="#222" stroke="#222" stroke-width="0.25" transform="rotate(-90 297.0 94.5)">Relative optical frequency (GHz)</text>
<text x="148.00" y="419.60" font-size="12" text-anchor="middle" fill="#222" stroke="#222" stroke-width="0.25">Relative optical frequency (GHz)</text>
<text x="434.50" y="420.80" font-size="12" text-anchor="middle" fill="#222" stroke="#222" stroke-width="0.25">Relative optical frequency (GHz)</text>
<text x="14.70" y="296.80" font-size="12" text-anchor="middle" fill="#222" stroke="#222" stroke-width="0.25" transform="rotate(-90 14.7 296.8)">PDF</text>
<text x="297.10" y="296.50" font-size="12" text-anchor="middle" fill="#222" stroke="#222" stroke-width="0.25" transform="rotate(-90 297.1 296.5)">CDF</text>
<text x="51.90" y="25.00" font-size="13.7" text-anchor="start" fill="#111" stroke="#111" stroke-width="0.25" letter-spacing="0.5">(a)</text>
<text x="337.20" y="25.00" font-size="13.7" text-anchor="start" fill="#111" stroke="#111" stroke-width="0.25" letter-spacing="0.5">(b)</text>
<text x="51.60" y="240.30" font-size="13.7" text-anchor="start" fill="#111" stroke="#111" stroke-width="0.25" letter-spacing="0.5">(c)</text>
<text x="336.90" y="241.80" font-size="13.7" text-anchor="start" fill="#111" stroke="#111" stroke-width="0.25" letter-spacing="0.5">(d)</text>
<line x1="175.70" y1="240.40" x2="198.20" y2="240.40" stroke="#ff3535" stroke-width="1.0"/>
<line x1="175.70" y1="249.90" x2="198.20" y2="249.90" stroke="#333" stroke-width="1.1"/>
<text x="205.90" y="243.60" font-size="8.2" text-anchor="start" fill="#222" stroke="#222" stroke-width="0.15">Fibre at 102 m</text>
<text x="205.90" y="253.10" font-size="8.2" text-anchor="start" fill="#222" stroke="#222" stroke-width="0.15">Fibre at 8 m</text>
<line x1="451.30" y1="283.30" x2="473.60" y2="283.30" stroke="#ff3535" stroke-width="1.0"/>
<line x1="451.30" y1="292.70" x2="473.60" y2="292.70" stroke="#333" stroke-width="1.1"/>
<text x="478.70" y="286.20" font-size="8.2" text-anchor="start" fill="#222" stroke="#222" stroke-width="0.15">Fibre at 102 m</text>
<text x="478.70" y="296.20" font-size="8.2" text-anchor="start" fill="#222" stroke="#222" stroke-width="0.15">Fibre at 8 m</text>
</svg>
</body></html>
